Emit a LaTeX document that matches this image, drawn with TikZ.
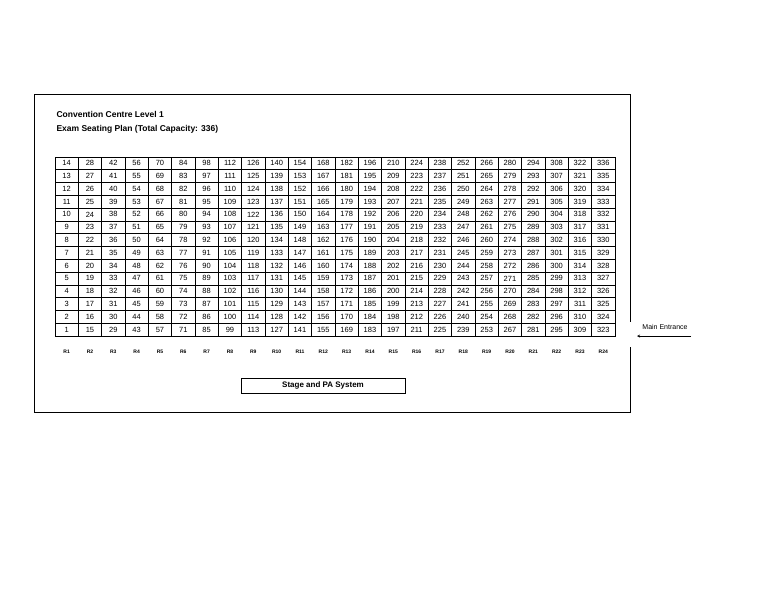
\documentclass[tikz,border=0pt]{standalone}
\usepackage{fontspec}
\setmainfont{Liberation Sans}
\tikzset{
  seat/.style   = {draw, thin, minimum width=23.33pt, minimum height=12.8pt, inner sep=0pt, font=\fontsize{7.5}{8}\selectfont},
  rowlabel/.style = {font=\bfseries\fontsize{5}{6}\selectfont},
  title/.style  = {anchor=west, font=\bfseries\fontsize{8.5}{10}\selectfont},
  arrow/.style  = {thin,->,>=stealth}
}
\begin{document}
\begin{tikzpicture}[x=1pt,y=-1pt]
\useasboundingbox (0,0) rectangle (768,593);
% outer walls with the entrance gap
\draw [thick] (630,322) -- (630,94) -- (34,94) -- (34,412) -- (630,412) -- (630,347);
\node (title1) [title] at (53,114) {Convention Centre Level 1};
\node (title2) [title] at (53,129) {Exam Seating Plan (Total Capacity: 336)};
% seats
\foreach \c in {1,...,24} {
  \foreach \r in {1,...,14} {
    \pgfmathtruncatemacro{\n}{(\c-1)*14+\r}
    \node (s\c-\r) [seat] at ({55+(\c-0.5)*23.333},{336-(\r-0.5)*12.8}) {\n};
  }
  \node (r\c) [rowlabel] at ({55+(\c-0.5)*23.333},352) {R\c};
}
\node (stage) [draw, thick, minimum width=164pt, minimum height=15pt, font=\bfseries\fontsize{8}{9}\selectfont] at (323,385.5) {Stage and PA System};
\node (entrance) [font=\fontsize{7}{8}\selectfont] at (665,327) {Main Entrance};
\coordinate (door) at (637,337);
\draw [arrow] (entrance.south east) ++(0,3) coordinate (tail) -- (tail -| door);
\end{tikzpicture}
\end{document}
